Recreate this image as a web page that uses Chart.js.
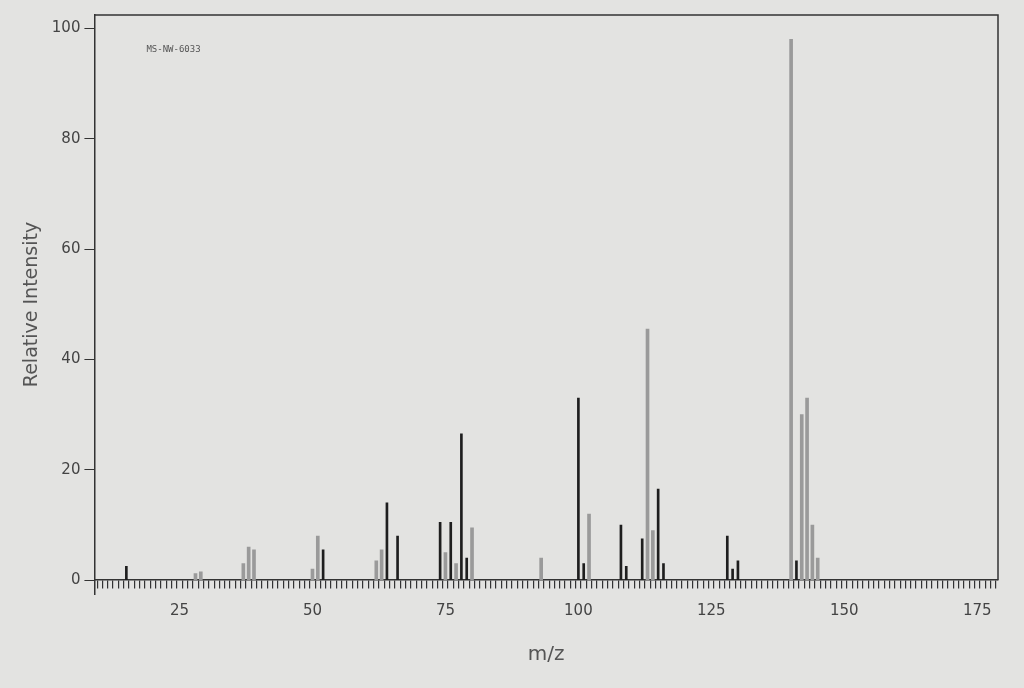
<!DOCTYPE html>
<html><head><meta charset="utf-8">
<script src="https://cdn.jsdelivr.net/npm/chart.js@4"></script>
<style>
html,body{margin:0;background:#e3e3e1;}
</style></head>
<body><canvas id="ms" width="1024" height="688"></canvas>
<script>
// dark peaks
var blackMz = [15, 52, 64, 66, 74, 76, 78, 79, 100, 101, 108, 109, 112, 115, 116, 128, 129, 130, 141];
var blackInt = [2.5, 5.5, 14, 8, 10.5, 10.5, 26.5, 4, 33, 3, 10, 2.5, 7.5, 16.5, 3, 8, 2, 3.5, 3.5];
// grey peaks
var greyMz = [28, 29, 37, 38, 39, 50, 51, 62, 63, 75, 77, 80, 93, 102, 113, 114, 140, 142, 143, 144, 145];
var greyInt = [1.2, 1.5, 3, 6, 5.5, 2, 8, 3.5, 5.5, 5, 3, 9.5, 4, 12, 45.5, 9, 98, 30, 33, 10, 4];
var yTicks = [0, 20, 40, 60, 80, 100];
var xLabels = [25, 50, 75, 100, 125, 150, 175];

function pts(m, v) { return m.map((x, i) => ({x: x, y: v[i]})); }

var frame = {
    id: 'frame',
    afterDraw(c) {
        var a = c.chartArea, g = c.ctx;
        g.save();
        g.strokeStyle = '#333';
        g.lineWidth = 1.5;
        g.beginPath();
        g.moveTo(a.left, a.top); g.lineTo(a.right, a.top); g.lineTo(a.right, c.scales.y.getPixelForValue(0));
        g.stroke();
        g.fillStyle = '#555';
        g.font = '9px "DejaVu Sans Mono"';
        g.fillText('MS-NW-6033', a.left + 52, a.top + 37);
        g.font = '20px "DejaVu Sans"';
        g.textAlign = 'center';
        g.fillText('m/z', (a.left + a.right) / 2, 660);
        g.restore();
    }
};

new Chart(document.getElementById('ms'), {
    type: 'bar',
    data: {
        datasets: [
            {data: pts(greyMz, greyInt), backgroundColor: '#9a9a9a', barThickness: 3},
            {data: pts(blackMz, blackInt), backgroundColor: '#1e1e1e', barThickness: 2}
        ]
    },
    options: {
        animation: false,
        responsive: false,
        grouped: false,
        layout: {padding: {left: 17, right: 26, top: 15, bottom: 94}},
        plugins: {legend: {display: false}, tooltip: {enabled: false}},
        scales: {
            x: {
                type: 'linear', min: 9.5, max: 178.4,
                position: {y: 0},
                grid: {drawOnChartArea: false, tickLength: 8, color: '#333', lineWidth: 1.2},
                border: {color: '#333', width: 1.5},
                afterBuildTicks(s) {
                    var t = [];
                    for (var i = 10; i <= 178; i++) t.push({value: i});
                    s.ticks = t;
                },
                ticks: {
                    autoSkip: false, maxRotation: 0, color: '#444', padding: 14,
                    font: {family: 'DejaVu Sans', size: 15},
                    callback: v => xLabels.includes(v) ? v : ''
                }
            },
            y: {
                min: -2.5, max: 102.4,
                afterBuildTicks(s) { s.ticks = yTicks.map(v => ({value: v})); },
                grid: {drawOnChartArea: false, tickLength: 10, color: '#333'},
                border: {color: '#333', width: 1.5},
                ticks: {color: '#444', font: {family: 'DejaVu Sans', size: 15}, padding: 4},
                title: {display: true, text: 'Relative Intensity', color: '#555', font: {family: 'DejaVu Sans', size: 19}}
            }
        }
    },
    plugins: [frame]
});
</script>
</body></html>
